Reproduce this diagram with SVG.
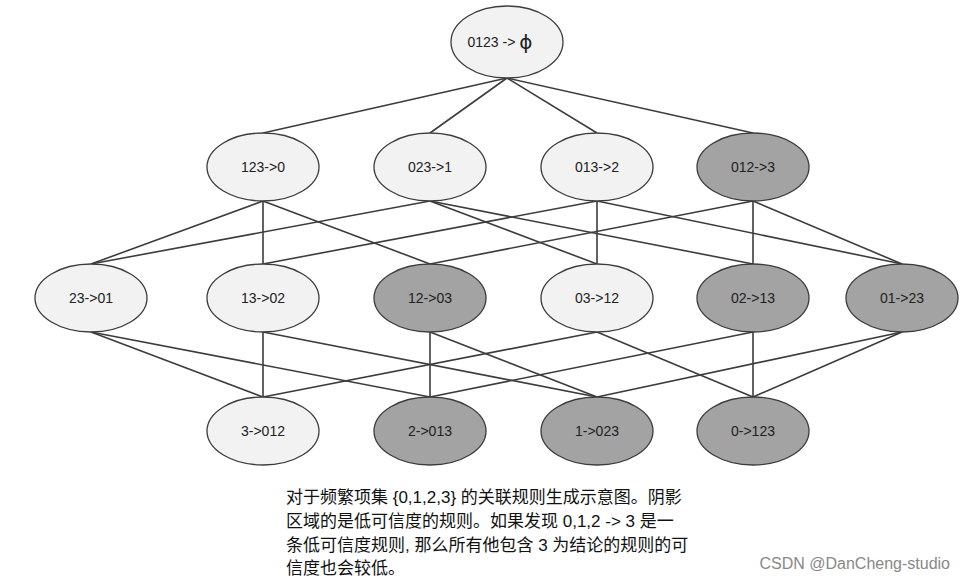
<svg xmlns="http://www.w3.org/2000/svg" width="965" height="583" viewBox="0 0 965 583">
<style>
.n{stroke:#3c3c3c;stroke-width:1.3}
.l{fill:#f2f2f2}.d{fill:#a3a3a3}
.t{font-family:"Liberation Sans Narrow","Liberation Sans",sans-serif;font-size:14px;fill:#222;text-anchor:middle;dominant-baseline:central}
.c line{stroke:#3c3c3c;stroke-width:1.6}
.cap{font-family:"Liberation Sans","Noto Sans CJK SC",sans-serif;font-size:17px;fill:#111}
</style>
<rect width="965" height="583" fill="#fff"/>
<g class="c">
<line x1="507" y1="78" x2="263" y2="133"/><line x1="507" y1="78" x2="430" y2="133"/><line x1="507" y1="78" x2="597" y2="133"/><line x1="507" y1="78" x2="753" y2="133"/>
<line x1="263" y1="201" x2="91" y2="264"/><line x1="263" y1="201" x2="263" y2="264"/><line x1="263" y1="201" x2="430" y2="264"/>
<line x1="430" y1="201" x2="91" y2="264"/><line x1="430" y1="201" x2="597" y2="264"/><line x1="430" y1="201" x2="753" y2="264"/>
<line x1="597" y1="201" x2="263" y2="264"/><line x1="597" y1="201" x2="597" y2="264"/><line x1="597" y1="201" x2="902" y2="264"/>
<line x1="753" y1="201" x2="430" y2="264"/><line x1="753" y1="201" x2="753" y2="264"/><line x1="753" y1="201" x2="902" y2="264"/>
<line x1="91" y1="332" x2="263" y2="397"/><line x1="263" y1="332" x2="263" y2="397"/><line x1="597" y1="332" x2="263" y2="397"/>
<line x1="91" y1="332" x2="430" y2="397"/><line x1="430" y1="332" x2="430" y2="397"/><line x1="753" y1="332" x2="430" y2="397"/>
<line x1="263" y1="332" x2="597" y2="397"/><line x1="430" y1="332" x2="597" y2="397"/><line x1="902" y1="332" x2="597" y2="397"/>
<line x1="597" y1="332" x2="753" y2="397"/><line x1="753" y1="332" x2="753" y2="397"/><line x1="902" y1="332" x2="753" y2="397"/>
</g>
<g id="n0123"><ellipse class="n l" cx="507" cy="42" rx="56" ry="36"/><text class="t" x="500" y="42">0123 -&gt; <tspan font-size="20" font-family="DejaVu Sans">ϕ</tspan></text></g>
<g id="n123"><ellipse class="n l" cx="263" cy="167" rx="56" ry="34"/><text class="t" x="263" y="167">123-&gt;0</text></g>
<g id="n023"><ellipse class="n l" cx="430" cy="167" rx="56" ry="34"/><text class="t" x="430" y="167">023-&gt;1</text></g>
<g id="n013"><ellipse class="n l" cx="597" cy="167" rx="56" ry="34"/><text class="t" x="597" y="167">013-&gt;2</text></g>
<g id="n012"><ellipse class="n d" cx="753" cy="167" rx="56" ry="34"/><text class="t" x="753" y="167">012-&gt;3</text></g>
<g id="n23"><ellipse class="n l" cx="91" cy="298" rx="56" ry="34"/><text class="t" x="91" y="298">23-&gt;01</text></g>
<g id="n13"><ellipse class="n l" cx="263" cy="298" rx="56" ry="34"/><text class="t" x="263" y="298">13-&gt;02</text></g>
<g id="n12"><ellipse class="n d" cx="430" cy="298" rx="56" ry="34"/><text class="t" x="430" y="298">12-&gt;03</text></g>
<g id="n03"><ellipse class="n l" cx="597" cy="298" rx="56" ry="34"/><text class="t" x="597" y="298">03-&gt;12</text></g>
<g id="n02"><ellipse class="n d" cx="753" cy="298" rx="56" ry="34"/><text class="t" x="753" y="298">02-&gt;13</text></g>
<g id="n01"><ellipse class="n d" cx="902" cy="298" rx="56" ry="34"/><text class="t" x="902" y="298">01-&gt;23</text></g>
<g id="n3"><ellipse class="n l" cx="263" cy="431" rx="56" ry="34"/><text class="t" x="263" y="431">3-&gt;012</text></g>
<g id="n2"><ellipse class="n d" cx="430" cy="431" rx="56" ry="34"/><text class="t" x="430" y="431">2-&gt;013</text></g>
<g id="n1"><ellipse class="n d" cx="597" cy="431" rx="56" ry="34"/><text class="t" x="597" y="431">1-&gt;023</text></g>
<g id="n0"><ellipse class="n d" cx="753" cy="431" rx="56" ry="34"/><text class="t" x="753" y="431">0-&gt;123</text></g>
<g class="cap">
<text x="286" y="503">对于频繁项集 {0,1,2,3} 的关联规则生成示意图。阴影</text>
<text x="286" y="527">区域的是低可信度的规则。如果发现 0,1,2 -&gt; 3 是一</text>
<text x="286" y="551">条低可信度规则, 那么所有他包含 3 为结论的规则的可</text>
<text x="286" y="574">信度也会较低。</text>
</g>
<text x="950" y="569" text-anchor="end" font-family="Liberation Sans,sans-serif" font-size="16" fill="#888">CSDN @DanCheng-studio</text>
</svg>
